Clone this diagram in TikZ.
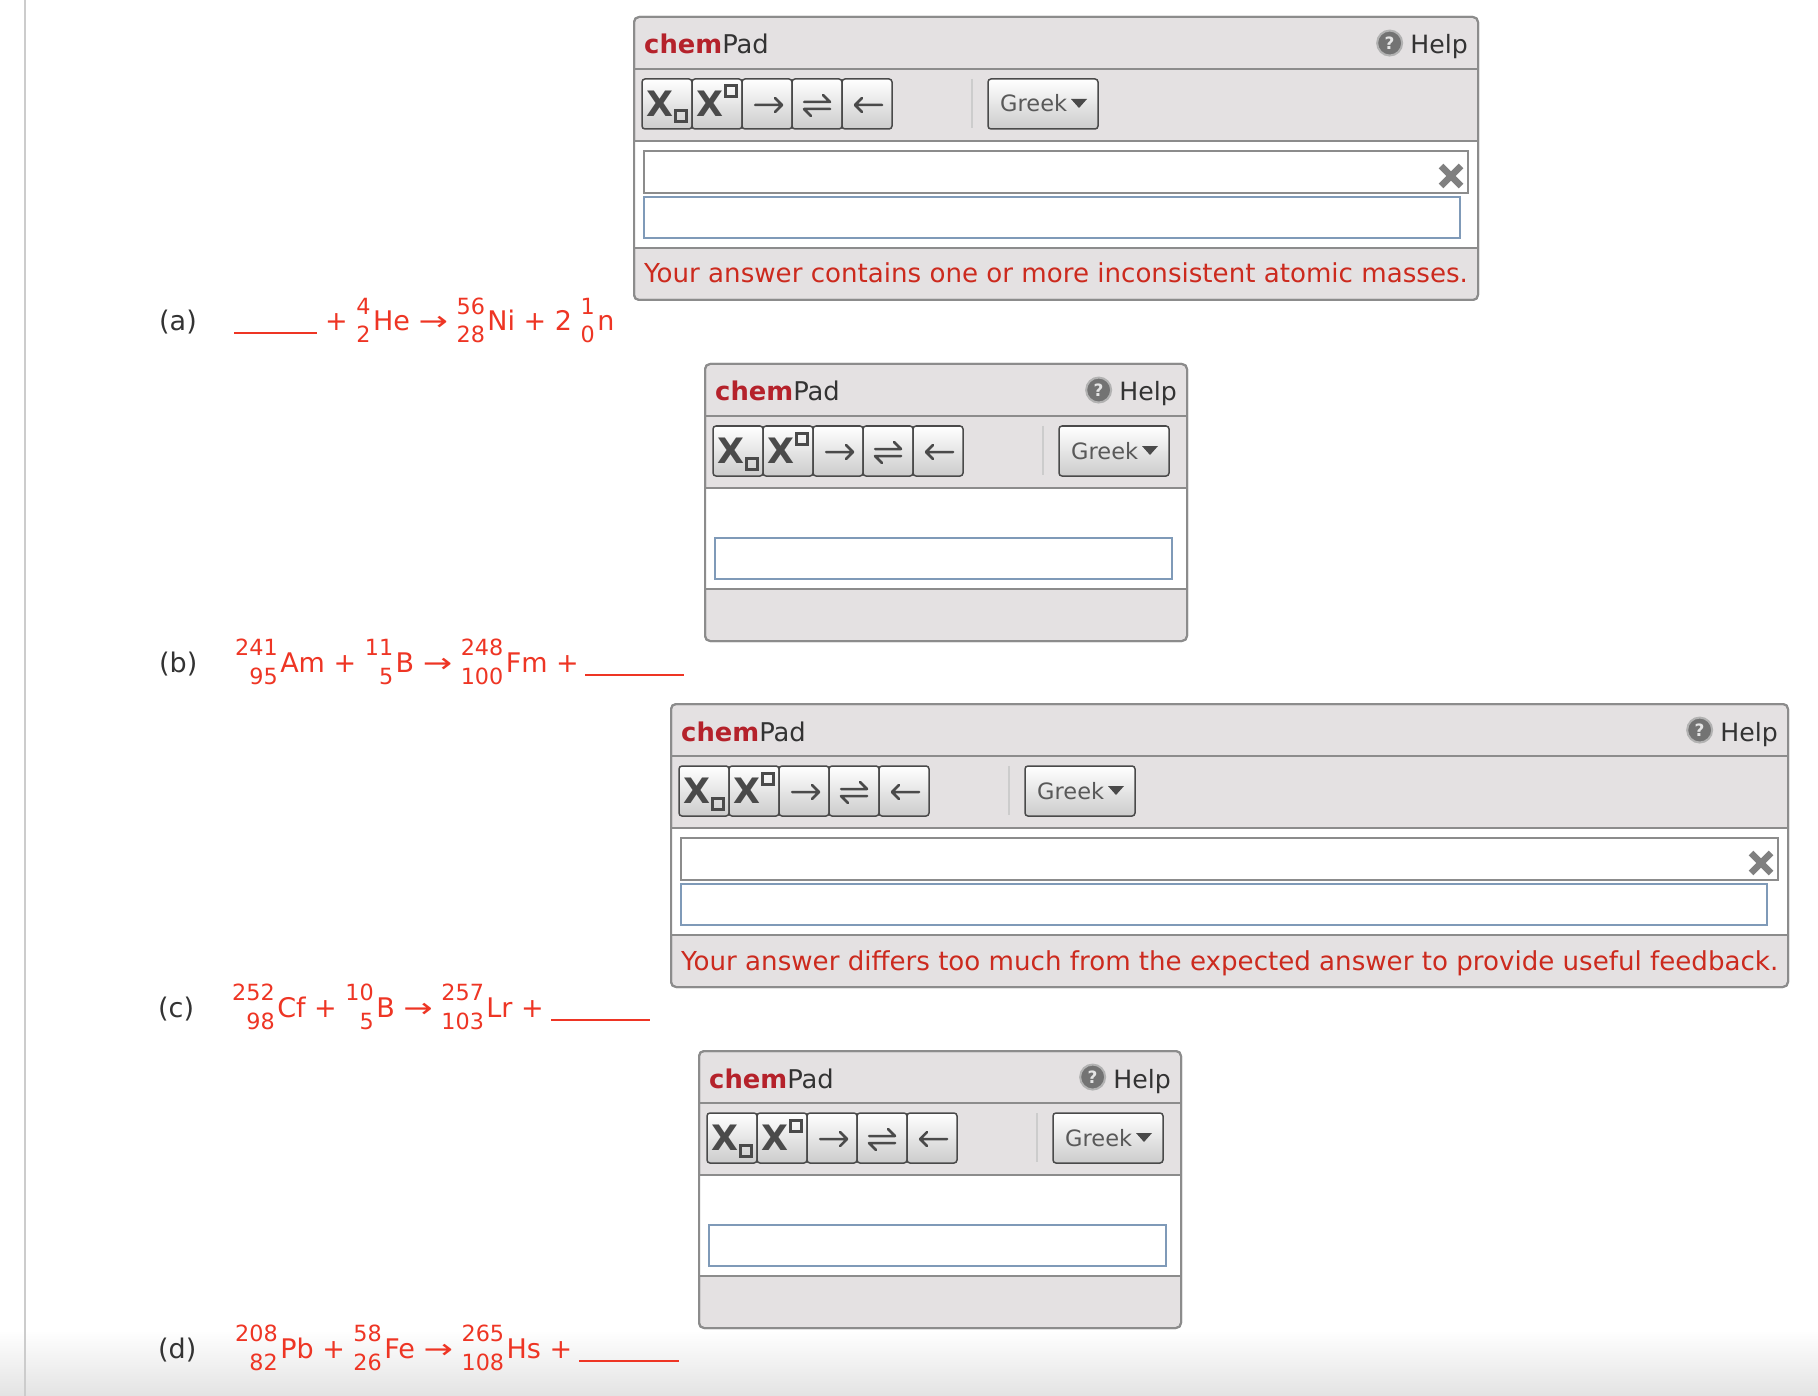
\documentclass[tikz,border=0pt]{standalone}
\usepackage{fontspec}
\setmainfont{DejaVu Sans}
\usetikzlibrary{positioning}
\definecolor{padbg}{HTML}{E4E1E2}
\definecolor{padline}{HTML}{8C8C8C}
\definecolor{fieldblue}{HTML}{7F9AB8}
\definecolor{chemred}{HTML}{B5222B}
\definecolor{errred}{HTML}{CC2A1E}
\definecolor{eqred}{HTML}{EE3524}
\definecolor{inkdark}{HTML}{333333}
\definecolor{iconink}{HTML}{4A4A4A}

\tikzset{
 padframe/.style={draw=padline, line width=2pt, rounded corners=5pt},
 padrule/.style={draw=padline, line width=2pt},
 btn/.style={draw=iconink, line width=1.5pt, rounded corners=3pt, top color=white, bottom color=black!20,
  minimum width=50pt, minimum height=50pt, inner sep=0pt, outer sep=0pt},
 icon/.style={draw=iconink, line width=2.5pt, line cap=round, line join=round},
 fieldgray/.style={draw=padline, line width=2pt, fill=white},
 fieldblu/.style={draw=fieldblue, line width=2pt, fill=white},
 eqtext/.style={anchor=base west, inner sep=0pt, text=eqred, font=\fontsize{27}{30}\selectfont},
 itemlabel/.style={anchor=base west, inner sep=0pt, text=inkdark, font=\fontsize{27}{30}\selectfont},
 errtext/.style={anchor=base west, inner sep=0pt, text=errred, font=\fontsize{26.1}{30}\selectfont},
 blank/.style={draw=eqred, line width=2pt},
}

% mass and atomic number stacked right-aligned in front of the symbol
\newcommand{\iso}[3]{{\fontsize{22.3}{24}\selectfont\setbox0=\hbox{#1}\setbox2=\hbox{#2}%
 \ifdim\wd0<\wd2 \setbox0=\hbox to\wd2{\hss#1}\else\setbox2=\hbox to\wd0{\hss#2}\fi
 \raise16.5pt\copy0\kern-\wd0\lower12pt\box2}\kern2.5pt #3}
\newcommand{\yields}{\scalebox{1.3}[1]{→}}

% name, left, top, width, height
\newcommand{\chempad}[5]{
\begin{scope}[shift={(#2,#3)}]
 \path[padframe, fill=padbg] (0,0) rectangle (#4,#5);
 \fill[white] (0,124) rectangle (#4,#5-52);
 \draw[padrule] (0,52) -- (#4,52);
 \draw[padrule] (0,124) -- (#4,124);
 \draw[padrule] (0,#5-52) -- (#4,#5-52);
 \path[padframe] (0,0) rectangle (#4,#5);
 % head
 \node[anchor=base west, inner sep=0pt, font=\fontsize{25.8}{30}\selectfont] (#1title) at (10,37)
  {\textcolor{chemred}{\textbf{chem}}\textcolor{inkdark}{Pad}};
 \node[anchor=base east, inner sep=0pt, text=inkdark, font=\fontsize{25.2}{30}\selectfont] (#1help) at (#4-10,37) {Help};
 \node[circle, draw=black!30, line width=2pt, fill=black!55, text=black!10, minimum size=25pt, inner sep=0pt,
  font=\bfseries\fontsize{17}{17}\selectfont, left=7pt of #1help.west, yshift=4pt] (#1helpicon) {?};
 % toolbar
 \node[btn] (#1sub) at (33,87) {};
 \node[btn, right=0pt of #1sub] (#1sup) {};
 \node[btn, right=0pt of #1sup] (#1fwd) {};
 \node[btn, right=0pt of #1fwd] (#1eq) {};
 \node[btn, right=0pt of #1eq] (#1back) {};
 \node[text=iconink, inner sep=0pt, font=\bfseries\fontsize{35}{35}\selectfont] at ([xshift=-7pt]#1sub) {X};
 \node[text=iconink, inner sep=0pt, font=\bfseries\fontsize{35}{35}\selectfont] at ([xshift=-7pt]#1sup) {X};
 \draw[iconink, line width=3pt] ([xshift=8pt,yshift=-18pt]#1sub.center) rectangle ([xshift=19pt,yshift=-7pt]#1sub.center);
 \draw[iconink, line width=3pt] ([xshift=8pt,yshift=7pt]#1sup.center) rectangle ([xshift=19pt,yshift=18pt]#1sup.center);
 \begin{scope}[shift={(#1fwd.center)}]
  \draw[icon] (-12,1) -- (15,1) (8,-6) -- (15,1) -- (8,8);
 \end{scope}
 \begin{scope}[shift={(#1eq.center)}]
  \draw[icon] (-13,-2) -- (13,-2) -- (6,-9);
  \draw[icon] (13,5) -- (-13,5) -- (-6,12);
 \end{scope}
 \begin{scope}[shift={(#1back.center)}]
  \draw[icon] (15,1) -- (-12,1) (-5,-6) -- (-12,1) -- (-5,8);
 \end{scope}
 \draw[black!20, line width=1.5pt] (338,62) -- (338,111);
 \node[btn, minimum width=110pt, rounded corners=3pt, anchor=west] (#1greek) at (354,87) {};
 \node[anchor=base west, inner sep=0pt, text=black!65, font=\fontsize{22.5}{24}\selectfont] (#1greektext) at (366,95) {Greek};
 \fill[iconink] (437,82) -- (453,82) -- (445,91) -- cycle;
\end{scope}
}

% the grey field with its cross, the blue field and the message
\newcommand{\padfeedback}[6]{
\begin{scope}[shift={(#2,#3)}]
 \node[fieldgray, anchor=north west, minimum width=#4pt-20pt, minimum height=42pt, inner sep=0pt, outer sep=0pt] (#1field) at (10,134) {};
 \node[fieldblu, anchor=north west, minimum width=#5pt, minimum height=41pt, inner sep=0pt, outer sep=0pt] (#1input) at (10,180) {};
 \begin{scope}[shift={(#4-27,159)}]
  \draw[draw=black!50, line width=6.5pt] (-10,-10) -- (10,10) (-10,10) -- (10,-10);
 \end{scope}
 \node[errtext] (#1error) at (10,266) {#6};
\end{scope}
}

\begin{document}
\begin{tikzpicture}[x=1pt, y=-1pt]
\useasboundingbox (0,0) rectangle (1818,1396);
\fill[white] (0,0) rectangle (1818,1396);
\path[top color=white, bottom color=black!11] (0,1330) rectangle (1818,1396);
\draw[black!20, line width=2.5pt] (25,0) -- (25,1396);

% panels
\chempad{a}{634}{17}{844}{283}
\padfeedback{a}{634}{17}{844}{816}{Your answer contains one or more inconsistent atomic masses.}
\chempad{b}{705}{364}{482}{277}
\node[fieldblu, anchor=north west, minimum width=457pt, minimum height=41pt, inner sep=0pt, outer sep=0pt] (binput) at (715,538) {};
\chempad{c}{671}{704}{1117}{283}
\padfeedback{c}{671}{704}{1117}{1086}{Your answer differs too much from the expected answer to provide useful feedback.}
\chempad{d}{699}{1051}{482}{277}
\node[fieldblu, anchor=north west, minimum width=457pt, minimum height=41pt, inner sep=0pt, outer sep=0pt] (dinput) at (709,1225) {};

% reactions
\node[itemlabel] (laba) at (159,331) {(a)};
\draw[blank] (234,333) -- (317,333);
\node[eqtext] (eqa) at (325,331) {+ \iso{4}{2}{He} \yields{} \iso{56}{28}{Ni} + 2 \iso{1}{0}{n}};

\node[itemlabel] (labb) at (159,672) {(b)};
\node[eqtext] (eqb) at (235,672) {\iso{241}{95}{Am} + \iso{11}{5}{B} \yields{} \iso{248}{100}{Fm} +};
\draw[blank] (585,675) -- (684,675);

\node[itemlabel] (labc) at (158,1017) {(c)};
\node[eqtext] (eqc) at (232,1017) {\iso{252}{98}{Cf} + \iso{10}{5}{B} \yields{} \iso{257}{103}{Lr} +};
\draw[blank] (551,1020) -- (650,1020);

\node[itemlabel] (labd) at (158,1358) {(d)};
\node[eqtext] (eqd) at (235,1358) {\iso{208}{82}{Pb} + \iso{58}{26}{Fe} \yields{} \iso{265}{108}{Hs} +};
\draw[blank] (579,1361) -- (679,1361);
\end{tikzpicture}
\end{document}
